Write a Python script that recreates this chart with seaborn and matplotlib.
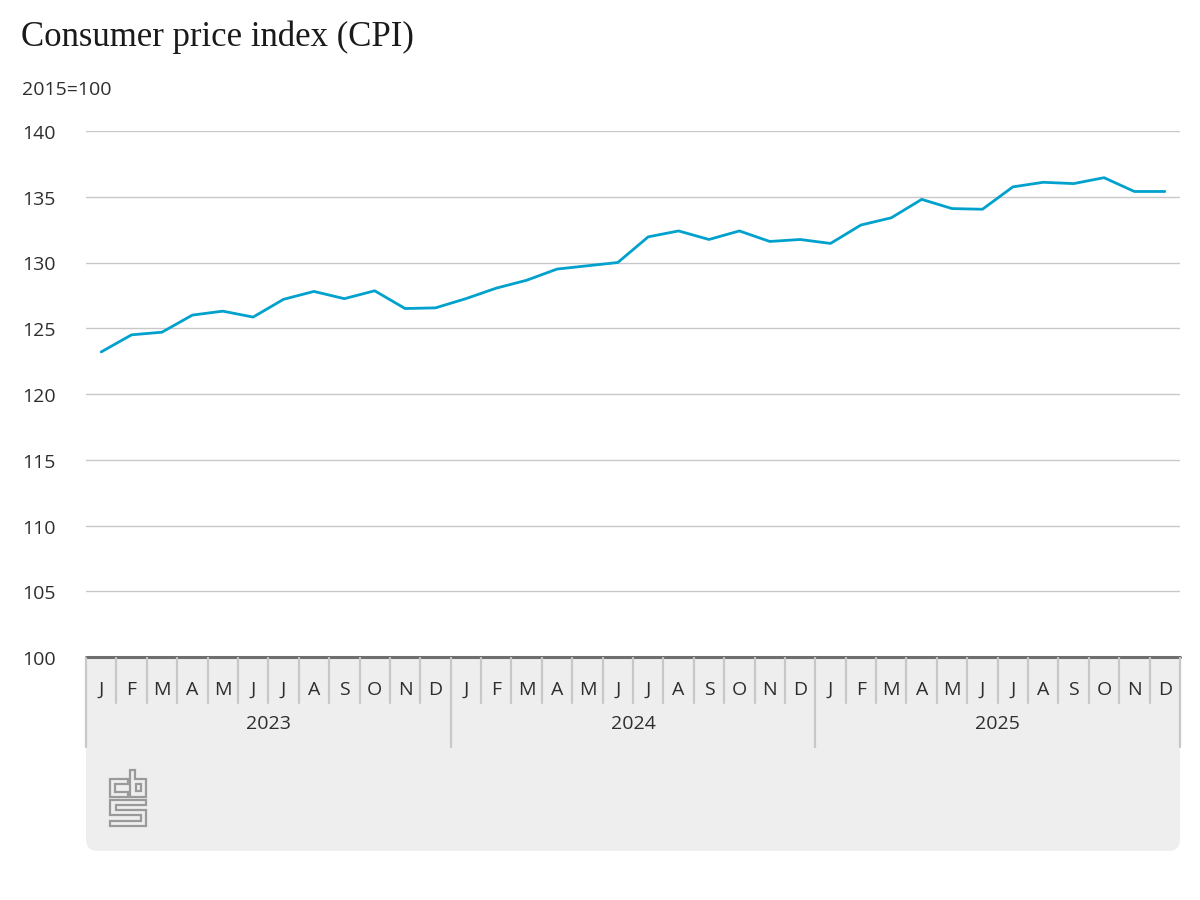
import matplotlib
matplotlib.use("Agg")
import matplotlib.pyplot as plt
import matplotlib.transforms as mtransforms
from matplotlib.patches import FancyBboxPatch, Rectangle, Polygon
from matplotlib.lines import Line2D
import seaborn as sns
import pandas as pd

# ---------------- data ----------------
years = ["2023", "2024", "2025"]
month_labels = ["J", "F", "M", "A", "M", "J", "J", "A", "S", "O", "N", "D"]
cpi_2023 = [123.2, 124.5, 124.7, 126.0, 126.3, 125.85, 127.2, 127.8, 127.25, 127.85, 126.5, 126.55]
cpi_2024 = [127.25, 128.05, 128.65, 129.5, 129.75, 130.0, 131.95, 132.4, 131.75, 132.4, 131.6, 131.75]
cpi_2025 = [131.45, 132.85, 133.4, 134.8, 134.1, 134.05, 135.75, 136.1, 136.0, 136.45, 135.4, 135.4]
y_ticks = [100, 105, 110, 115, 120, 125, 130, 135, 140]
title = "Consumer price index (CPI)"
unit_label = "2015=100"

values = cpi_2023 + cpi_2024 + cpi_2025
df = pd.DataFrame({"idx": list(range(len(values))), "cpi": values})

# ---------------- style ----------------
sns.set_theme(style="white")
plt.rcParams["font.family"] = ["Open Sans", "DejaVu Sans"]
TXT = "#2e2e2e"
GRID = "#c8c8c8"
LINE = "#00a1cd"
BAND = "#eeeeee"

W, H = 1200, 900
fig = plt.figure(figsize=(W / 100, H / 100), dpi=100)
fig.patch.set_facecolor("white")

# pixel transform (x from left, y from top)
pix = mtransforms.Affine2D().scale(1 / W, -1 / H).translate(0, 1) + fig.transFigure

left, right, top, bottom = 86, 1180, 131, 657
ax = fig.add_axes([left / W, 1 - bottom / H, (right - left) / W, (bottom - top) / H])
ax.set_facecolor("none")

# category band background (rounded bottom corners)
band_bottom = 851
bg = FancyBboxPatch((left, 657), right - left, band_bottom - 657,
                    boxstyle="round,pad=0,rounding_size=12",
                    transform=pix, facecolor=BAND, edgecolor="none", zorder=0)
fig.add_artist(bg)
fig.add_artist(Rectangle((left, 657), right - left, 30, transform=pix,
                         facecolor=BAND, edgecolor="none", zorder=0))

sns.lineplot(data=df, x="idx", y="cpi", ax=ax, color=LINE, linewidth=2.0, zorder=3)

n = len(values)
ax.set_xlim(-0.5, n - 0.5)
ax.set_ylim(100, 140)
ax.set_xlabel("")
ax.set_ylabel("")
ax.set_xticks([])
ax.set_yticks(y_ticks)
ax.set_yticklabels([])
ax.tick_params(left=False, bottom=False)
for s in ax.spines.values():
    s.set_visible(False)

for v in y_ticks:
    if v == 100:
        ax.axhline(v, color="#6e6e6e", linewidth=2.2, zorder=4, clip_on=False)
    else:
        ax.axhline(v, color=GRID, linewidth=1.0, zorder=1)

# y tick labels, left-aligned at x=22 px
ytr = mtransforms.blended_transform_factory(pix, ax.transData)
ytr_off = mtransforms.offset_copy(ytr, fig=fig, y=-3, units="dots")
for v in y_ticks:
    fig.text(22, v, str(v), transform=ytr_off, ha="left", va="center",
             fontsize=14, color=TXT)

# category axis: month labels, separators, year labels
xtr = mtransforms.blended_transform_factory(ax.transData, pix)
for i in range(n):
    fig.text(i, 690, month_labels[i % 12], transform=xtr, ha="center", va="center",
             fontsize=14, color=TXT)
for k in range(n + 1):
    xpos = k - 0.5
    y_end = 747 if k % 12 == 0 else 703
    fig.add_artist(Line2D([xpos, xpos], [658, y_end], transform=xtr,
                          color=GRID, linewidth=1.6, zorder=2))
for j, yr in enumerate(years):
    fig.text(j * 12 + 5.5, 724, yr, transform=xtr, ha="center", va="center",
             fontsize=14, color=TXT)

# titles
fig.text(21, 46, title, transform=pix, ha="left", va="baseline",
         fontsize=25, color="#1a1a1a", family=["Liberation Serif", "DejaVu Serif"])
fig.text(22, 90, unit_label, transform=pix, ha="left", va="center",
         fontsize=14, color=TXT)

# cbs logo (decorative outline)
logo_col = "#9a9a9a"
c_shape = [(128, 779), (110, 779), (110, 797), (128, 797), (128, 792), (115, 792), (115, 784), (128, 784)]
b_shape = [(130, 770), (135, 770), (135, 779), (146, 779), (146, 797), (130, 797)]
b_inner = [(136, 784), (141, 784), (141, 791), (136, 791)]
s_shape = [(110, 800), (146, 800), (146, 805), (116, 805), (116, 810), (146, 810),
           (146, 826), (110, 826), (110, 821), (141, 821), (141, 815), (110, 815)]
for shp in (c_shape, b_shape, b_inner, s_shape):
    fig.add_artist(Polygon(shp, closed=True, transform=pix, facecolor="none",
                           edgecolor=logo_col, linewidth=1.6, zorder=3))

fig.savefig("out.png", dpi=100)
